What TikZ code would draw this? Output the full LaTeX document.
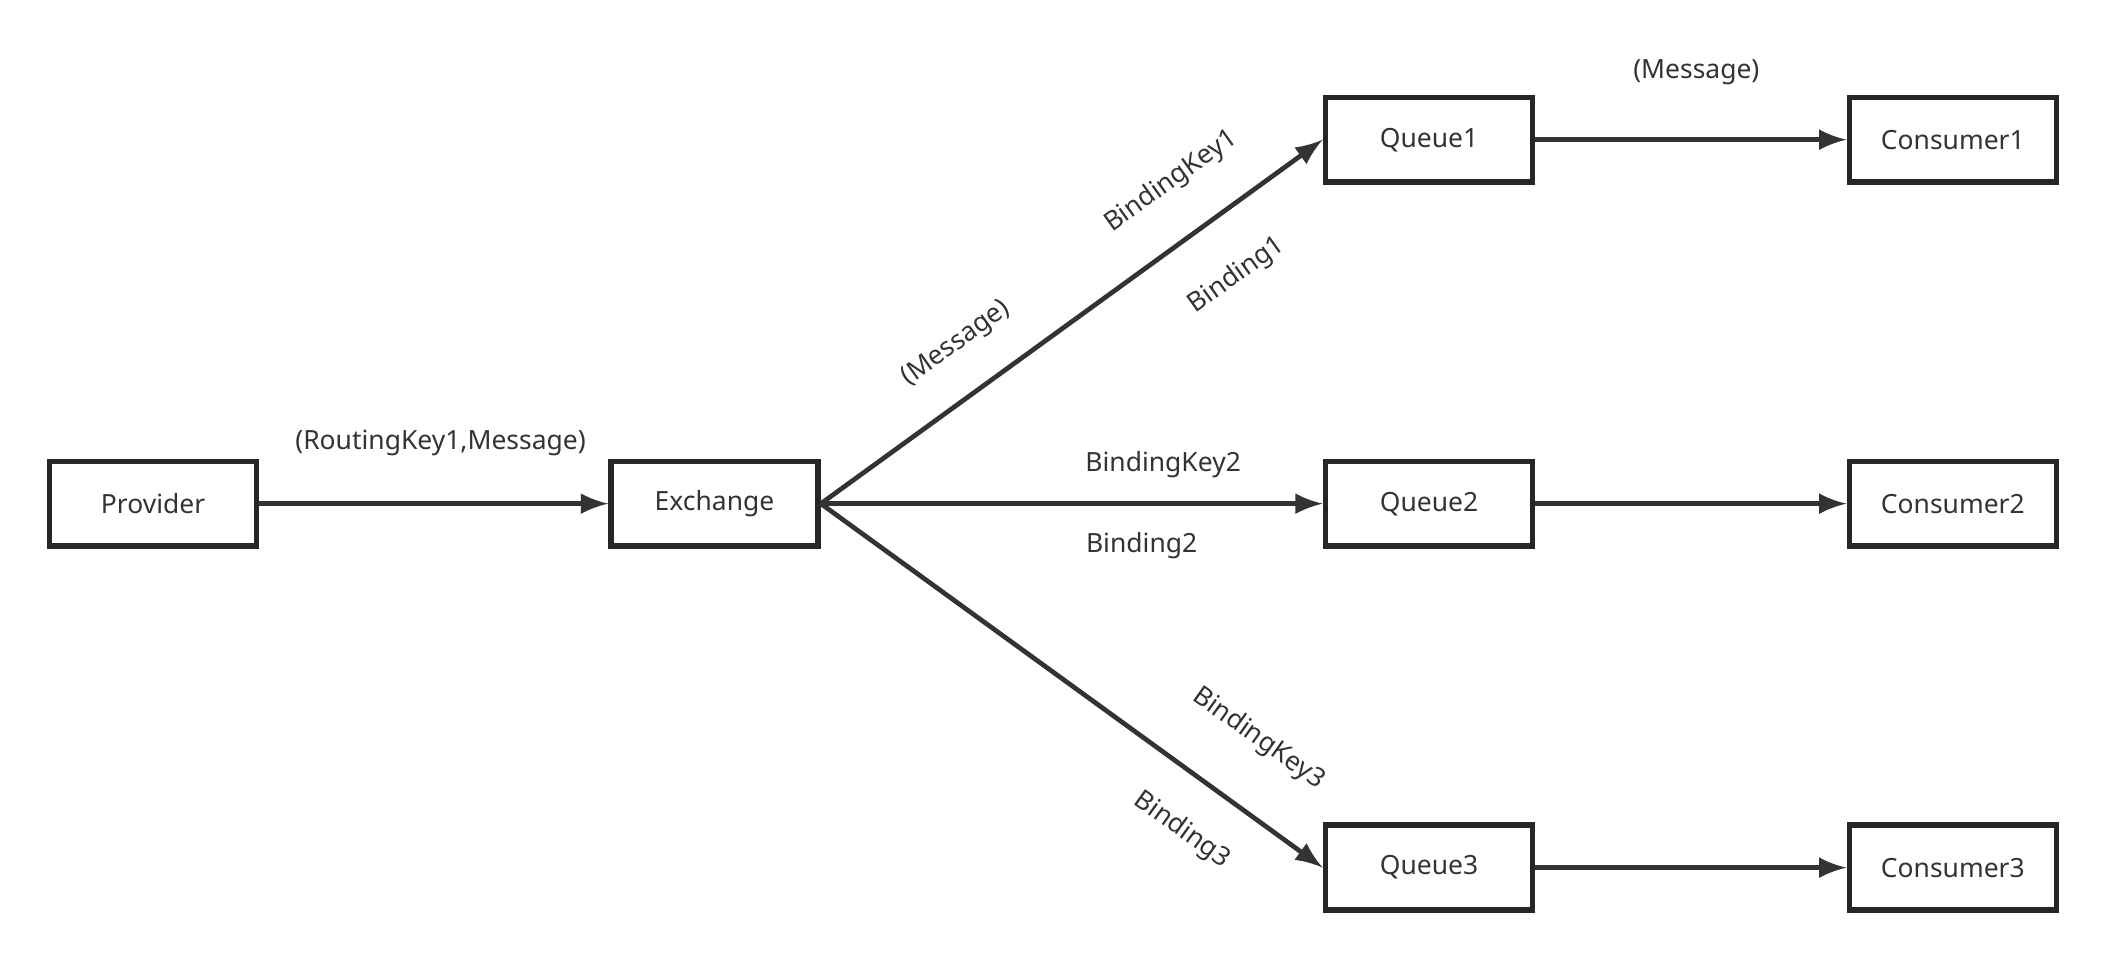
\documentclass[tikz,border=0pt]{standalone}
\usepackage{fontspec}
\setmainfont{Noto Sans}
\begin{document}
\begin{tikzpicture}[x=0.01cm,y=-0.01cm,
  box/.style={draw=black!85,line width=1.2pt,minimum width=1.54cm,minimum height=0.63cm,inner sep=0pt,font=\fontsize{5.6pt}{6pt}\selectfont,text=black!80},
  lbl/.style={font=\fontsize{5.6pt}{6pt}\selectfont,text=black!80,inner sep=0pt},
  arr/.style={draw=black!80,line width=1pt,-latex}]
\useasboundingbox (0,0) rectangle (1568,715);
\node[box] (p) at (114,375) {Provider};
\node[box] (e) at (532,375) {Exchange};
\node[box] (q1) at (1064,104) {Queue1};
\node[box] (q2) at (1064,375) {Queue2};
\node[box] (q3) at (1064,646) {Queue3};
\node[box] (c1) at (1454,104) {Consumer1};
\node[box] (c2) at (1454,375) {Consumer2};
\node[box] (c3) at (1454,646) {Consumer3};
\draw[arr] (p) -- (e);
\draw[arr] (e.east) -- (q1.west);
\draw[arr] (e.east) -- (q2.west);
\draw[arr] (e.east) -- (q3.west);
\draw[arr] (q1) -- (c1);
\draw[arr] (q2) -- (c2);
\draw[arr] (q3) -- (c3);
\node[lbl] (l0) at (328,330) {(RoutingKey1,Message)};
\node[lbl,rotate=35.6] (l1) at (712,256) {(Message)};
\node[lbl,rotate=35.6] (l2) at (872,135) {BindingKey1};
\node[lbl,rotate=35.6] (l3) at (921,205) {Binding1};
\node[lbl] (l4) at (866,346) {BindingKey2};
\node[lbl] (l5) at (850,406) {Binding2};
\node[lbl,rotate=-35.6] (l6) at (937,550) {BindingKey3};
\node[lbl,rotate=-35.6] (l7) at (880,618) {Binding3};
\node[lbl] (l8) at (1263,54) {(Message)};
\end{tikzpicture}
\end{document}
